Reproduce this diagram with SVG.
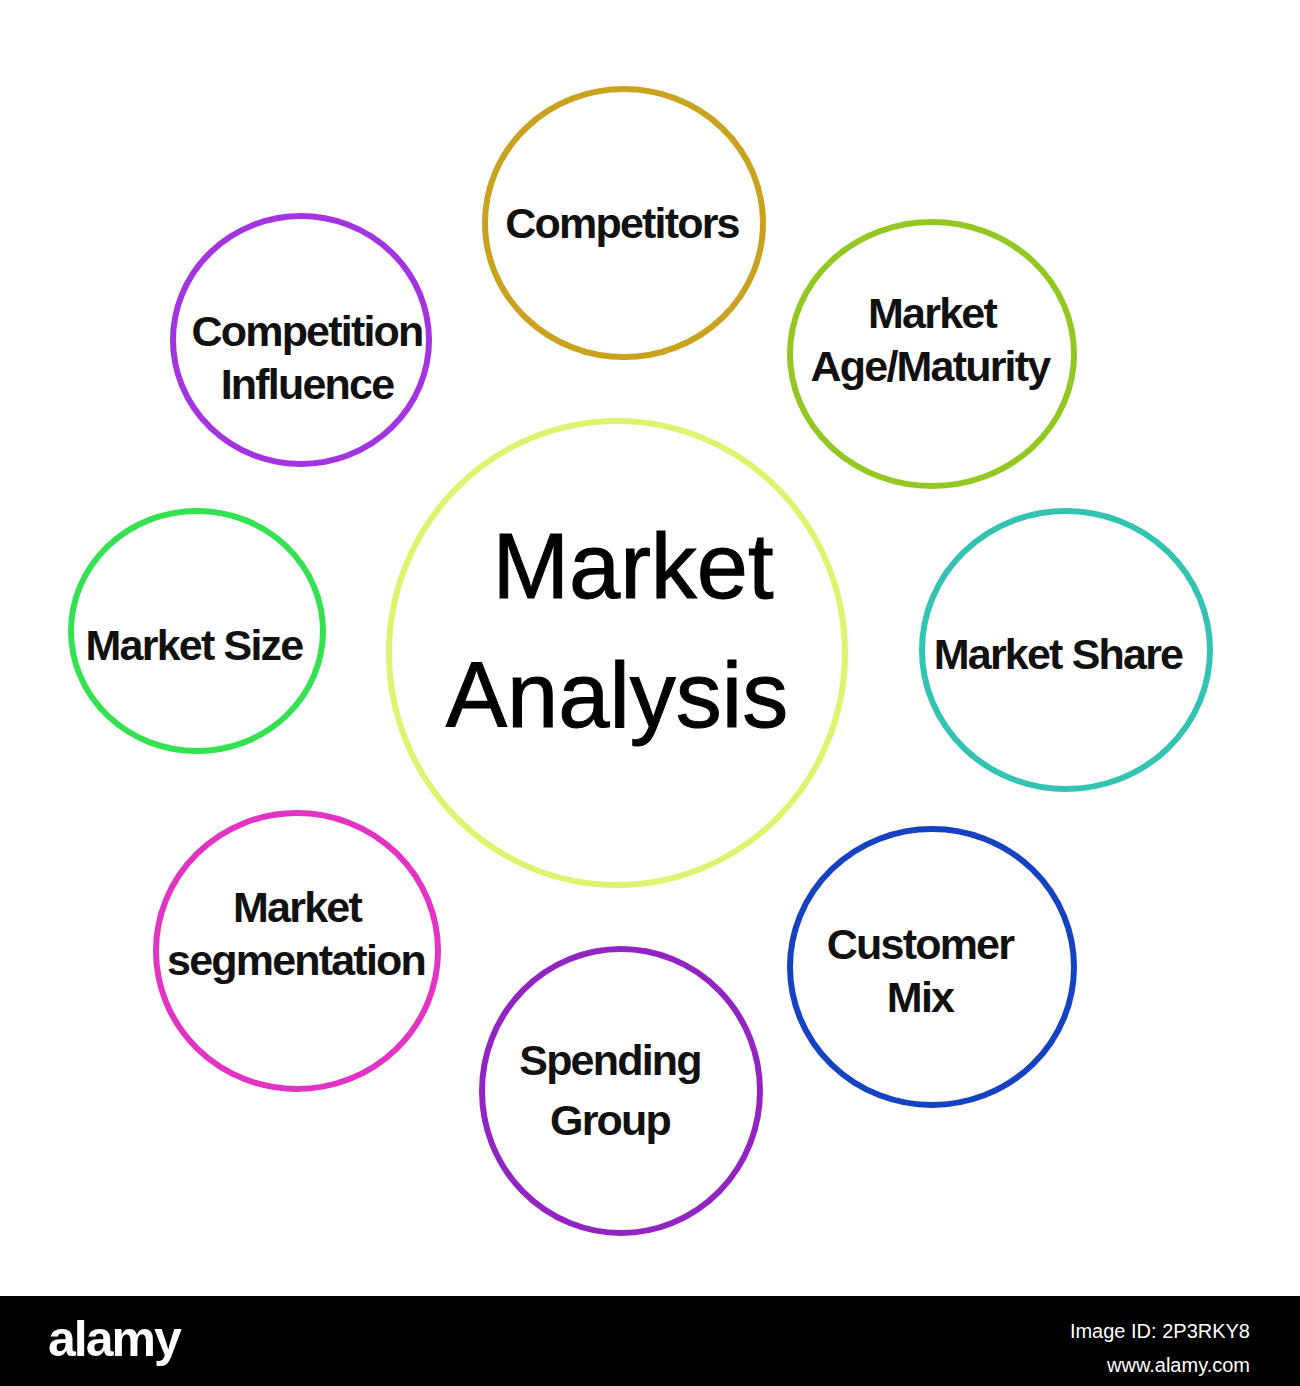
<svg xmlns="http://www.w3.org/2000/svg" width="1300" height="1386" viewBox="0 0 1300 1386">
<style>
.c{fill:none;stroke-width:6;stroke-linecap:round}
.t{font-family:"Liberation Sans",Arial,sans-serif;font-weight:bold;font-size:43px;fill:#111;text-anchor:middle;letter-spacing:-1.8px}
.m{font-family:"Liberation Sans",Arial,sans-serif;font-size:92px;fill:#000;text-anchor:middle;stroke:#000;stroke-width:1}
</style>
<rect width="1300" height="1386" fill="#fff"/>
<g id="center"><ellipse class="c" cx="617" cy="653" rx="228" ry="232" stroke="#def36e" stroke-width="9"/>
<text class="m" x="633" y="598">Market</text><text class="m" x="617" y="727">Analysis</text></g>
<g id="competitors"><ellipse class="c" cx="624" cy="223" rx="139" ry="134" stroke="#c9a21e"/><text class="t" x="622" y="238">Competitors</text></g>
<g id="competition-influence"><ellipse class="c" cx="301" cy="340" rx="128" ry="124" stroke="#a334e2"/><text class="t" x="307" y="346">Competition</text><text class="t" x="307" y="399">Influence</text></g>
<g id="market-age"><ellipse class="c" cx="932" cy="354" rx="142" ry="132" stroke="#93c823"/><text class="t" x="932" y="328">Market</text><text class="t" x="930" y="381">Age/Maturity</text></g>
<g id="market-size"><ellipse class="c" cx="197" cy="631" rx="126" ry="120" stroke="#33e151"/><text class="t" x="194" y="660">Market Size</text></g>
<g id="market-share"><ellipse class="c" cx="1066" cy="650" rx="144" ry="139" stroke="#33c3b3"/><text class="t" x="1058" y="669">Market Share</text></g>
<g id="market-segmentation"><ellipse class="c" cx="297" cy="951" rx="141" ry="138" stroke="#e233c4"/><text class="t" x="297" y="922">Market</text><text class="t" x="296" y="975">segmentation</text></g>
<g id="customer-mix"><ellipse class="c" cx="932" cy="967" rx="142" ry="138" stroke="#1542c3"/><text class="t" x="920" y="959">Customer</text><text class="t" x="920" y="1012">Mix</text></g>
<g id="spending-group"><ellipse class="c" cx="621" cy="1091" rx="139" ry="142" stroke="#9224c4"/><text class="t" x="610" y="1075">Spending</text><text class="t" x="610" y="1135">Group</text></g>
<g id="connectors"></g>
<rect x="0" y="1296" width="1300" height="90" fill="#000"/>
<text x="48" y="1356" font-family="Liberation Sans,Arial,sans-serif" font-weight="bold" font-size="50" fill="#fff" letter-spacing="-2">alamy</text>
<text x="1250" y="1338" font-family="Liberation Sans,Arial,sans-serif" font-size="20" fill="#fff" text-anchor="end">Image ID: 2P3RKY8</text>
<text x="1250" y="1372" font-family="Liberation Sans,Arial,sans-serif" font-size="20" fill="#fff" text-anchor="end">www.alamy.com</text>
</svg>
